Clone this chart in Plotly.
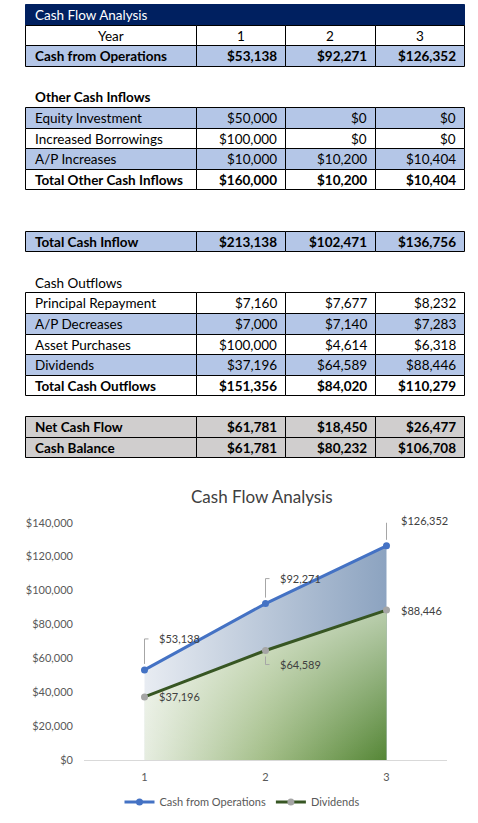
import plotly.graph_objects as go

# ---------------- data ----------------
years = [1, 2, 3]
year_labels = ["1", "2", "3"]
cash_ops = [53138, 92271, 126352]
equity = [50000, 0, 0]
borrowings = [100000, 0, 0]
ap_increases = [10000, 10200, 10404]
total_other_inflows = [160000, 10200, 10404]
total_inflow = [213138, 102471, 136756]
principal = [7160, 7677, 8232]
ap_decreases = [7000, 7140, 7283]
asset_purchases = [100000, 4614, 6318]
dividends = [37196, 64589, 88446]
total_outflows = [151356, 84020, 110279]
net_cash_flow = [61781, 18450, 26477]
cash_balance = [61781, 80232, 106708]

# ---------------- styling / layout constants ----------------
W, H = 478, 823
FONT = "Lato"
NAVY = "#002060"
BLUE = "#B4C6E7"
GRAY = "#D0CECE"
COL_EDGES = [25, 196, 285, 375, 464]   # table column boundaries (px)
ROW_TOP, ROW_H = 4, 20.6
TABLE_H = 470                           # height of table region (px)
FS = 13.5


def fmt(v):
    return "${:,}".format(v)


# table rows, top to bottom
rows = [
    dict(kind="title", label="Cash Flow Analysis"),
    dict(kind="year", label="Year", vals=year_labels),
    dict(kind="row", label="Cash from Operations", vals=cash_ops, fill=BLUE, bold=True),
    dict(kind="blank"),
    dict(kind="label", label="Other Cash Inflows", bold=True),
    dict(kind="row", label="Equity Investment", vals=equity, fill=BLUE),
    dict(kind="row", label="Increased Borrowings", vals=borrowings, fill="white"),
    dict(kind="row", label="A/P Increases", vals=ap_increases, fill=BLUE),
    dict(kind="row", label="Total Other Cash Inflows", vals=total_other_inflows, fill="white", bold=True),
    dict(kind="blank"),
    dict(kind="blank"),
    dict(kind="row", label="Total Cash Inflow", vals=total_inflow, fill=BLUE, bold=True),
    dict(kind="blank"),
    dict(kind="label", label="Cash Outflows"),
    dict(kind="row", label="Principal Repayment", vals=principal, fill="white"),
    dict(kind="row", label="A/P Decreases", vals=ap_decreases, fill=BLUE),
    dict(kind="row", label="Asset Purchases", vals=asset_purchases, fill="white"),
    dict(kind="row", label="Dividends", vals=dividends, fill=BLUE),
    dict(kind="row", label="Total Cash Outflows", vals=total_outflows, fill="white", bold=True),
    dict(kind="blank"),
    dict(kind="row", label="Net Cash Flow", vals=net_cash_flow, fill=GRAY, bold=True),
    dict(kind="row", label="Cash Balance", vals=cash_balance, fill=GRAY, bold=True),
]


def row_edge(r):
    return round(ROW_TOP + ROW_H * r) + 0.5


shapes = []
annotations = []


def cell_text(text, x, y, anchor, shift, bold=False, color="black"):
    annotations.append(dict(text=text, x=x, y=y, xref="x2", yref="y2", showarrow=False,
                            xanchor=anchor, yanchor="middle", xshift=shift,
                            font=dict(family=FONT, size=FS, color=color,
                                      weight="bold" if bold else "normal")))


for r, row in enumerate(rows):
    y0, y1 = row_edge(r), row_edge(r + 1)
    yc = (y0 + y1) / 2
    kind = row["kind"]
    if kind == "blank":
        continue
    if kind == "title":
        shapes.append(dict(type="rect", xref="x2", yref="y2", x0=COL_EDGES[0] + 0.5, x1=COL_EDGES[-1] + 0.5,
                           y0=y0, y1=y1, fillcolor=NAVY, line=dict(color=NAVY, width=1), layer="below"))
        cell_text(row["label"], COL_EDGES[0], yc, "left", 8, color="white")
        continue
    if kind == "label":
        cell_text(row["label"], COL_EDGES[0], yc, "left", 8, bold=row.get("bold", False))
        continue
    fill = row.get("fill", "white")
    for c in range(4):
        shapes.append(dict(type="rect", xref="x2", yref="y2", x0=COL_EDGES[c] + 0.5, x1=COL_EDGES[c + 1] + 0.5,
                           y0=y0, y1=y1, fillcolor=fill, line=dict(color="black", width=1), layer="below"))
    bold = row.get("bold", False)
    if kind == "year":
        cell_text(row["label"], (COL_EDGES[0] + COL_EDGES[1]) / 2, yc, "center", 0)
        for c, v in enumerate(row["vals"]):
            cell_text(v, (COL_EDGES[c + 1] + COL_EDGES[c + 2]) / 2, yc, "center", 0)
    else:
        cell_text(row["label"], COL_EDGES[0], yc, "left", 8, bold=bold)
        for c, v in enumerate(row["vals"]):
            cell_text(fmt(v), COL_EDGES[c + 2], yc, "right", -6, bold=bold)

fig = go.Figure()
# anchor trace for the table subplot (no visible marks)
fig.add_trace(go.Scatter(x=[], y=[], xaxis="x2", yaxis="y2", showlegend=False, hoverinfo="skip"))

# ---------------- chart ----------------
fig.add_trace(go.Scatter(
    x=years, y=cash_ops, mode="none", fill="tozeroy", showlegend=False, hoverinfo="skip",
    fillgradient=dict(type="horizontal", colorscale=[[0, "#E8ECF2"], [1, "#8CA3C0"]]),
))
fig.add_trace(go.Scatter(
    x=years, y=dividends, mode="none", fill="tozeroy", showlegend=False, hoverinfo="skip",
    fillgradient=dict(type="horizontal", colorscale=[[0, "#E6EDE0"], [0.5, "#A3BE88"], [1, "#558636"]]),
))
fig.add_trace(go.Scatter(
    x=years, y=dividends, mode="none", fill="tozeroy", showlegend=False, hoverinfo="skip",
    fillgradient=dict(type="vertical", start=0, stop=90000,
                      colorscale=[[0, "rgba(255,255,255,0)"], [1, "rgba(255,255,255,0.6)"]]),
))
fig.add_trace(go.Scatter(
    x=years, y=cash_ops, name="Cash from Operations", mode="lines+markers",
    line=dict(color="#4472C4", width=3), marker=dict(color="#4472C4", size=7),
))
fig.add_trace(go.Scatter(
    x=years, y=dividends, name="Dividends", mode="lines+markers",
    line=dict(color="#375623", width=3), marker=dict(color="#A5A5A5", size=7),
))

# data labels (offsets in pixels) and leader lines
LBL = dict(family=FONT, size=11, color="#404040")
ops_offsets = [31, 25, 25]
div_offsets = [0, -14, 0]
for i, x in enumerate(years):
    for val, dy in ((cash_ops[i], ops_offsets[i]), (dividends[i], div_offsets[i])):
        annotations.append(dict(x=x, y=val, xref="x", yref="y", text=fmt(val), showarrow=False,
                                xanchor="left", yanchor="middle", xshift=12, yshift=dy, font=LBL))
        if dy != 0:
            s = 1 if dy > 0 else -1
            shapes.append(dict(type="path", xref="x", yref="y", xsizemode="pixel", ysizemode="pixel",
                               xanchor=x, yanchor=val,
                               path="M 0,%d L 0,%d L 4,%d" % (6 * s, dy, dy),
                               line=dict(color="#A6A6A6", width=1)))

annotations.append(dict(text="Cash Flow Analysis", x=262 / W, y=1 - 496 / H, xref="paper", yref="paper",
                        xanchor="center", yanchor="middle", showarrow=False,
                        font=dict(family=FONT, size=17, color="#404040")))

fig.update_layout(
    width=W, height=H, margin=dict(l=0, r=0, t=0, b=0, pad=0),
    paper_bgcolor="white", plot_bgcolor="rgba(0,0,0,0)",
    font=dict(family=FONT, color="#595959"),
    xaxis=dict(domain=[84 / W, 447 / W], range=[0.5, 3.5], tickvals=years, ticktext=year_labels,
               showgrid=False, zeroline=False, showline=True, linecolor="#D9D9D9", linewidth=1,
               tickfont=dict(family=FONT, size=11, color="#595959"), ticks="", ticklabelstandoff=7,
               fixedrange=True, automargin=False),
    yaxis=dict(domain=[1 - 760 / H, 1 - 522.7 / H], range=[0, 140000], dtick=20000,
               tickformat="$,.0f", showgrid=False, zeroline=False, showline=False,
               tickfont=dict(family=FONT, size=11, color="#595959"), ticklabelstandoff=10,
               fixedrange=True, automargin=False),
    xaxis2=dict(domain=[0, 1], range=[0, W], visible=False, anchor="y2", fixedrange=True, automargin=False),
    yaxis2=dict(domain=[1 - TABLE_H / H, 1], range=[TABLE_H, 0], visible=False, anchor="x2",
                fixedrange=True, automargin=False),
    legend=dict(orientation="h", x=242 / W, xanchor="center", y=1 - 802 / H, yanchor="middle",
                font=dict(family=FONT, size=11, color="#595959"), itemwidth=30,
                bgcolor="rgba(0,0,0,0)"),
    annotations=annotations, shapes=shapes,
)

fig.write_html("out.html", post_script="document.body.style.margin='0';",
               config={"displayModeBar": False})
